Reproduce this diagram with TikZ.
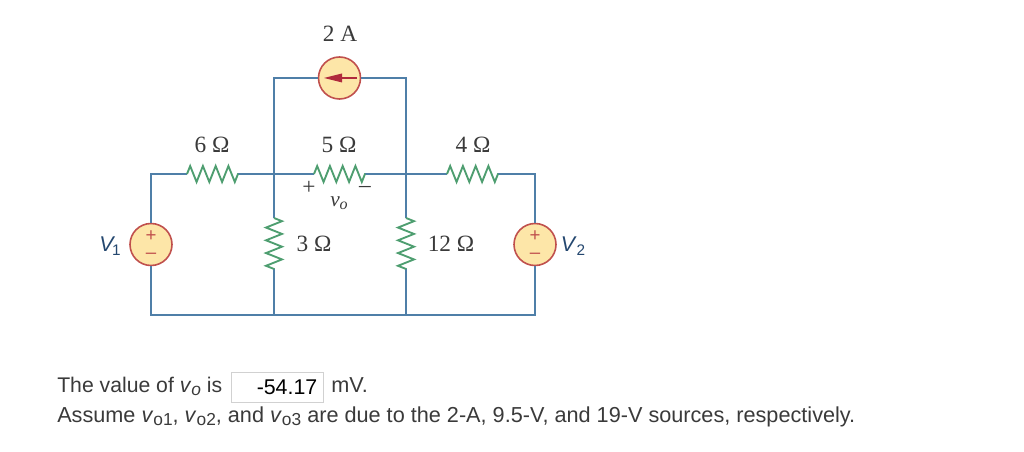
\documentclass[tikz,border=0pt]{standalone}
\usepackage{fontspec}
\setmainfont{Liberation Sans}
\newfontfamily\labelfont{Liberation Serif}
\usetikzlibrary{decorations.pathmorphing}
\definecolor{wireblue}{HTML}{4F7FA8}
\definecolor{resgreen}{HTML}{4E9E70}
\definecolor{srcred}{HTML}{C0504D}
\definecolor{arrowred}{HTML}{B02A3C}
\definecolor{srcfill}{HTML}{FDE6A8}
\definecolor{inkgray}{HTML}{3A3A3A}
\definecolor{voltblue}{HTML}{24476F}
\newcommand{\lowsub}[1]{\raisebox{-0.32ex}{\fontsize{13}{14}\selectfont #1}}
\newcommand{\voltsub}[1]{\raisebox{-3.5pt}{\fontsize{11.5}{12}\selectfont #1}}
\tikzset{
	wire/.style={draw=wireblue, line width=1pt},
	resistor/.style={draw=resgreen, line width=1.4pt, decorate, decoration={zigzag, segment length=9.56pt, amplitude=6pt, pre length=0pt, post length=0pt}},
	source/.style={circle, draw=srcred, fill=srcfill, line width=1.2pt, minimum size=31.5pt, inner sep=0pt},
	reslabel/.style={text=inkgray, inner sep=0pt, font=\labelfont\fontsize{17.5}{18}\selectfont},
	polarity/.style={text=srcred, inner sep=0pt, font=\fontsize{14}{15}\selectfont},
	voltlabel/.style={text=voltblue, inner sep=0pt, font=\fontsize{16}{17}\selectfont},
	sentence/.style={text=inkgray, anchor=base west, inner sep=0pt, font=\fontsize{16.25}{17}\selectfont},
}
\begin{document}
\begin{tikzpicture}[x=0.75pt, y=-0.75pt]
	\useasboundingbox (0, 0) rectangle (1024, 452);

	% corners of the circuit
	\coordinate (tl) at (151, 174);
	\coordinate (bl) at (151, 315);
	\coordinate (tr) at (535, 174);
	\coordinate (br) at (535, 315);
	\coordinate (ba) at (274, 315);
	\coordinate (bb) at (406, 315);
	\coordinate (ua) at (274, 78);
	\coordinate (ub) at (406, 78);

	% resistor ends
	\coordinate (r6a) at (187, 174);
	\coordinate (r6b) at (238, 174);
	\coordinate (r5a) at (314, 174);
	\coordinate (r5b) at (365, 174);
	\coordinate (r4a) at (447, 174);
	\coordinate (r4b) at (498, 174);
	\coordinate (r3a) at (274, 218);
	\coordinate (r3b) at (274, 269);
	\coordinate (r12a) at (406, 218);
	\coordinate (r12b) at (406, 269);

	% sources
	\node[source] (isrc) at (339.5, 78) {};
	\node[source] (vone) at (151, 244.5) {};
	\node[source] (vtwo) at (535, 244.5) {};

	% wires
	\draw[wire] (isrc) -- (ua) -- (r3a);
	\draw[wire] (isrc) -- (ub) -- (r12a);
	\draw[wire] (r3b) -- (ba);
	\draw[wire] (r12b) -- (bb);
	\draw[wire] (vone) -- (tl) -- (r6a);
	\draw[wire] (r6b) -- (r5a);
	\draw[wire] (r5b) -- (r4a);
	\draw[wire] (r4b) -- (tr) -- (vtwo);
	\draw[wire] (vone) -- (bl) -- (br) -- (vtwo);

	% resistors
	\draw[resistor] (r6a) -- (r6b);
	\draw[resistor] (r5a) -- (r5b);
	\draw[resistor] (r4a) -- (r4b);
	\draw[resistor] (r3a) -- (r3b);
	\draw[resistor] (r12a) -- (r12b);

	% arrow of the current source
	\coordinate (arrowtail) at (357, 78);
	\coordinate (arrowtip) at (324, 78);
	\draw[draw=arrowred, line width=1pt] (arrowtail) -- (340, 78);
	\fill[arrowred] (arrowtip) -- (342, 73.5) -- (342, 82.5) -- cycle;

	% polarity signs
	\node[polarity] (vonep) at (151, 236.5) {+};
	\node[polarity] (vonem) at (151, 256) {–};
	\node[polarity] (vtwop) at (535, 236.5) {+};
	\node[polarity] (vtwom) at (535, 256) {–};

	% labels
	\node[reslabel] (lia) at (340, 34) {2 A};
	\node[reslabel] (lsix) at (212, 145) {6 Ω};
	\node[reslabel] (lfive) at (339, 145) {5 Ω};
	\node[reslabel] (lfour) at (473, 145) {4 Ω};
	\node[reslabel] (lthree) at (314, 244) {3 Ω};
	\node[reslabel] (ltwelve) at (451, 244) {12 Ω};
	\node[reslabel] (lplus) at (309, 188) {+};
	\node[reslabel] (lminus) at (365, 189) {–};
	\node[text=inkgray, inner sep=0pt, font=\labelfont\fontsize{16}{17}\selectfont] (lvo) at (339, 203) {\textit{v}\raisebox{-0.3ex}{\fontsize{12}{12}\selectfont\textit{o}}};
	\node[voltlabel] (lvone) at (110, 246) {\textit{V}\kern-2.5pt\voltsub{1}};
	\node[voltlabel] (lvtwo) at (573, 246) {\textit{V}\voltsub{2}};

	% answer line
	\node[sentence, font=\fontsize{15.9}{17}\selectfont] (lineone) at (57, 392) {The value of \textit{v}\lowsub{\textit{o}} is};
	\node[draw=black!18, line width=0.7pt, minimum width=69pt, minimum height=22.5pt, inner sep=0pt] (answer) at (277, 387) {};
	\node[text=black, anchor=base, inner sep=0pt, font=\fontsize{16}{17}\selectfont] (value) at (287, 394) {-54.17};
	\node[sentence] (unit) at (331, 392) {mV.};
	\node[sentence] (linetwo) at (57, 422) {Assume \textit{v}\lowsub{o1}, \textit{v}\lowsub{o2}, and \textit{v}\lowsub{o3} are due to the 2-A, 9.5-V, and 19-V sources, respectively.};
\end{tikzpicture}
\end{document}
